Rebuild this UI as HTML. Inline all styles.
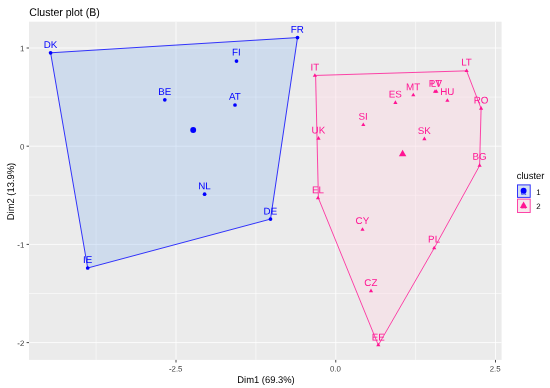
<!DOCTYPE html>
<html lang="en"><head><meta charset="utf-8"><title>Cluster plot (B)</title>
<style>
html,body{margin:0;padding:0;background:#fff;}
body{width:550px;height:388px;overflow:hidden;}
svg{display:block;}
text{font-family:"Liberation Sans",Arial,Helvetica,sans-serif;text-rendering:geometricPrecision;}
.tick{font-size:7.9px;fill:#424242;}
.axt{font-size:9.8px;fill:#000;}
.ttl{font-size:11.2px;fill:#000;}
.lb{font-size:9.8px;fill:#0000FF;text-anchor:middle;}
.lp{font-size:9.8px;fill:#FF1493;text-anchor:middle;}
</style></head><body>
<svg width="550" height="388" viewBox="0 0 550 388">
<rect x="0" y="0" width="550" height="388" fill="#ffffff"/>
<rect x="29.0" y="21.7" width="472.6" height="338.2" fill="#ebebeb"/>
<g stroke="#ffffff" stroke-width="0.55" fill="none">
<line x1="96.12" y1="21.7" x2="96.12" y2="359.9"/>
<line x1="255.88" y1="21.7" x2="255.88" y2="359.9"/>
<line x1="415.62" y1="21.7" x2="415.62" y2="359.9"/>
<line x1="29.0" y1="97.10" x2="501.6" y2="97.10"/>
<line x1="29.0" y1="195.30" x2="501.6" y2="195.30"/>
<line x1="29.0" y1="293.50" x2="501.6" y2="293.50"/>
</g>
<g stroke="#ffffff" stroke-width="0.8" fill="none">
<line x1="176.00" y1="21.7" x2="176.00" y2="359.9"/>
<line x1="335.75" y1="21.7" x2="335.75" y2="359.9"/>
<line x1="495.50" y1="21.7" x2="495.50" y2="359.9"/>
<line x1="29.0" y1="48.00" x2="501.6" y2="48.00"/>
<line x1="29.0" y1="146.20" x2="501.6" y2="146.20"/>
<line x1="29.0" y1="244.40" x2="501.6" y2="244.40"/>
<line x1="29.0" y1="342.60" x2="501.6" y2="342.60"/>
</g>
<g stroke="#333333" stroke-width="0.9" fill="none">
<line x1="176.00" y1="359.9" x2="176.00" y2="362.5"/>
<line x1="335.75" y1="359.9" x2="335.75" y2="362.5"/>
<line x1="495.50" y1="359.9" x2="495.50" y2="362.5"/>
<line x1="26.6" y1="48.00" x2="29.0" y2="48.00"/>
<line x1="26.6" y1="146.20" x2="29.0" y2="146.20"/>
<line x1="26.6" y1="244.40" x2="29.0" y2="244.40"/>
<line x1="26.6" y1="342.60" x2="29.0" y2="342.60"/>
</g>
<text class="tick" transform="translate(175.70,371.6) rotate(0.05)" text-anchor="middle">-2.5</text>
<text class="tick" transform="translate(335.45,371.6) rotate(0.05)" text-anchor="middle">0.0</text>
<text class="tick" transform="translate(495.20,371.6) rotate(0.05)" text-anchor="middle">2.5</text>
<text class="tick" transform="translate(24.4,51.30) rotate(0.05)" text-anchor="end">1</text>
<text class="tick" transform="translate(24.4,149.50) rotate(0.05)" text-anchor="end">0</text>
<text class="tick" transform="translate(24.4,247.70) rotate(0.05)" text-anchor="end">-1</text>
<text class="tick" transform="translate(24.4,345.90) rotate(0.05)" text-anchor="end">-2</text>
<text class="ttl" transform="translate(29.3,16.4) scale(0.945,1)">Cluster plot (B)</text>
<text class="axt" transform="translate(266,382.7) scale(0.96,1)" text-anchor="middle">Dim1 (69.3%)</text>
<text class="axt" transform="translate(14.4,191.5) rotate(-90) scale(0.96,1)" text-anchor="middle">Dim2 (13.9%)</text>
<polygon points="50.6,52.8 297.5,37.6 270.5,219.1 87.7,268.0" fill="rgba(138,182,238,0.3)"/>
<polygon points="315.6,75.45 466.6,70.85 481.1,108.45 479.6,165.65 434.2,248.15 378.3,345.15 318.4,198.15" fill="rgba(255,215,228,0.4)"/>
<g fill="#0000FF">
<circle cx="50.6" cy="52.8" r="1.85"/>
<circle cx="297.5" cy="37.6" r="1.85"/>
<circle cx="236.5" cy="61.1" r="1.85"/>
<circle cx="164.8" cy="99.8" r="1.85"/>
<circle cx="235.0" cy="105.0" r="1.85"/>
<circle cx="204.6" cy="194.2" r="1.85"/>
<circle cx="270.5" cy="219.1" r="1.85"/>
<circle cx="87.7" cy="268.0" r="1.85"/>
</g>
<text class="lb" transform="translate(50.5,47.9) rotate(0.05) scale(1.0,1)">DK</text>
<text class="lb" transform="translate(297.4,32.7) rotate(0.05) scale(1.0,1)">FR</text>
<text class="lb" transform="translate(236.4,55.6) rotate(0.05) scale(1.0,1)">FI</text>
<text class="lb" transform="translate(164.7,94.9) rotate(0.05) scale(1.0,1)">BE</text>
<text class="lb" transform="translate(234.9,99.7) rotate(0.05) scale(1.0,1)">AT</text>
<text class="lb" transform="translate(204.5,189.3) rotate(0.05) scale(1.0,1)">NL</text>
<text class="lb" transform="translate(270.4,214.6) rotate(0.05) scale(1.0,1)">DE</text>
<text class="lb" transform="translate(87.6,263.1) rotate(0.05) scale(1.0,1)">IE</text>
<polygon points="50.6,52.8 297.5,37.6 270.5,219.1 87.7,268.0" fill="none" stroke="#0000FF" stroke-opacity="0.78" stroke-width="1.0" stroke-linejoin="round"/>
<circle cx="193.2" cy="130.0" r="2.95" fill="#0000FF"/>
<g fill="#FF1493">
<polygon points="314.90,73.15 316.98,76.75 312.82,76.75"/>
<polygon points="466.60,68.45 468.68,72.05 464.52,72.05"/>
<polygon points="413.30,92.75 415.38,96.35 411.22,96.35"/>
<polygon points="435.00,89.25 437.08,92.85 432.92,92.85"/>
<polygon points="436.40,89.25 438.48,92.85 434.32,92.85"/>
<polygon points="447.40,98.15 449.48,101.75 445.32,101.75"/>
<polygon points="395.40,100.35 397.48,103.95 393.32,103.95"/>
<polygon points="481.10,106.05 483.18,109.65 479.02,109.65"/>
<polygon points="363.30,122.45 365.38,126.05 361.22,126.05"/>
<polygon points="318.50,136.05 320.58,139.65 316.42,139.65"/>
<polygon points="424.40,136.55 426.48,140.15 422.32,140.15"/>
<polygon points="479.60,163.25 481.68,166.85 477.52,166.85"/>
<polygon points="318.00,195.75 320.08,199.35 315.92,199.35"/>
<polygon points="362.50,227.15 364.58,230.75 360.42,230.75"/>
<polygon points="434.20,245.75 436.28,249.35 432.12,249.35"/>
<polygon points="371.00,288.55 373.08,292.15 368.92,292.15"/>
<polygon points="378.30,342.75 380.38,346.35 376.22,346.35"/>
</g>
<text class="lp" transform="translate(314.8,70.5) rotate(0.05) scale(1.0,1)">IT</text>
<text class="lp" transform="translate(466.5,65.6) rotate(0.05) scale(1.0,1)">LT</text>
<text class="lp" transform="translate(413.2,90.2) rotate(0.05) scale(1.0,1)">MT</text>
<text class="lp" transform="translate(434.9,86.8) rotate(0.05) scale(1.0,1)">PT</text>
<text class="lp" transform="translate(436.3,86.8) rotate(0.05) scale(1.0,1)">LV</text>
<text class="lp" transform="translate(447.3,94.9) rotate(0.05) scale(1.0,1)">HU</text>
<text class="lp" transform="translate(395.3,97.4) rotate(0.05) scale(1.0,1)">ES</text>
<text class="lp" transform="translate(481.0,103.5) rotate(0.05) scale(1.0,1)">RO</text>
<text class="lp" transform="translate(363.2,119.8) rotate(0.05) scale(1.0,1)">SI</text>
<text class="lp" transform="translate(318.4,133.4) rotate(0.05) scale(1.0,1)">UK</text>
<text class="lp" transform="translate(424.3,133.9) rotate(0.05) scale(1.0,1)">SK</text>
<text class="lp" transform="translate(479.5,159.8) rotate(0.05) scale(1.0,1)">BG</text>
<text class="lp" transform="translate(317.9,193.2) rotate(0.05) scale(1.0,1)">EL</text>
<text class="lp" transform="translate(362.4,224.1) rotate(0.05) scale(1.0,1)">CY</text>
<text class="lp" transform="translate(434.1,242.6) rotate(0.05) scale(1.0,1)">PL</text>
<text class="lp" transform="translate(370.9,285.9) rotate(0.05) scale(1.0,1)">CZ</text>
<text class="lp" transform="translate(378.2,340.6) rotate(0.05) scale(1.0,1)">EE</text>
<polygon points="315.6,75.45 466.6,70.85 481.1,108.45 479.6,165.65 434.2,248.15 378.3,345.15 318.4,198.15" fill="none" stroke="#FF1493" stroke-opacity="0.78" stroke-width="1.0" stroke-linejoin="round"/>
<polygon points="402.60,149.80 406.32,156.25 398.88,156.25" fill="#FF1493"/>
<text class="axt" transform="translate(516.7,178.5) scale(0.96,1)">cluster</text>
<rect x="517.1" y="184.5" width="13.5" height="13.2" fill="#f2f2f2"/>
<rect x="517.1" y="198.7" width="13.5" height="14.1" fill="#f2f2f2"/>
<circle cx="523.6" cy="190.9" r="1.85" fill="#0000FF"/>
<text class="lb" x="523.6" y="194.9">a</text>
<rect x="517.5" y="184.9" width="12.7" height="12.5" fill="rgba(138,182,238,0.3)" stroke="#0000FF" stroke-opacity="0.78" stroke-width="1.0"/>
<circle cx="523.6" cy="190.8" r="2.95" fill="#0000FF"/>
<polygon points="523.60,203.40 525.68,207.00 521.52,207.00" fill="#FF1493"/>
<text class="lp" x="523.6" y="209.3">a</text>
<rect x="517.5" y="199.1" width="12.7" height="13.4" fill="rgba(255,215,228,0.4)" stroke="#FF1493" stroke-opacity="0.78" stroke-width="1.0"/>
<polygon points="523.60,201.60 527.24,207.90 519.96,207.90" fill="#FF1493"/>
<text class="tick" x="536.3" y="194.7" style="fill:#000">1</text>
<text class="tick" x="536.3" y="209.2" style="fill:#000">2</text>
</svg>
</body></html>
